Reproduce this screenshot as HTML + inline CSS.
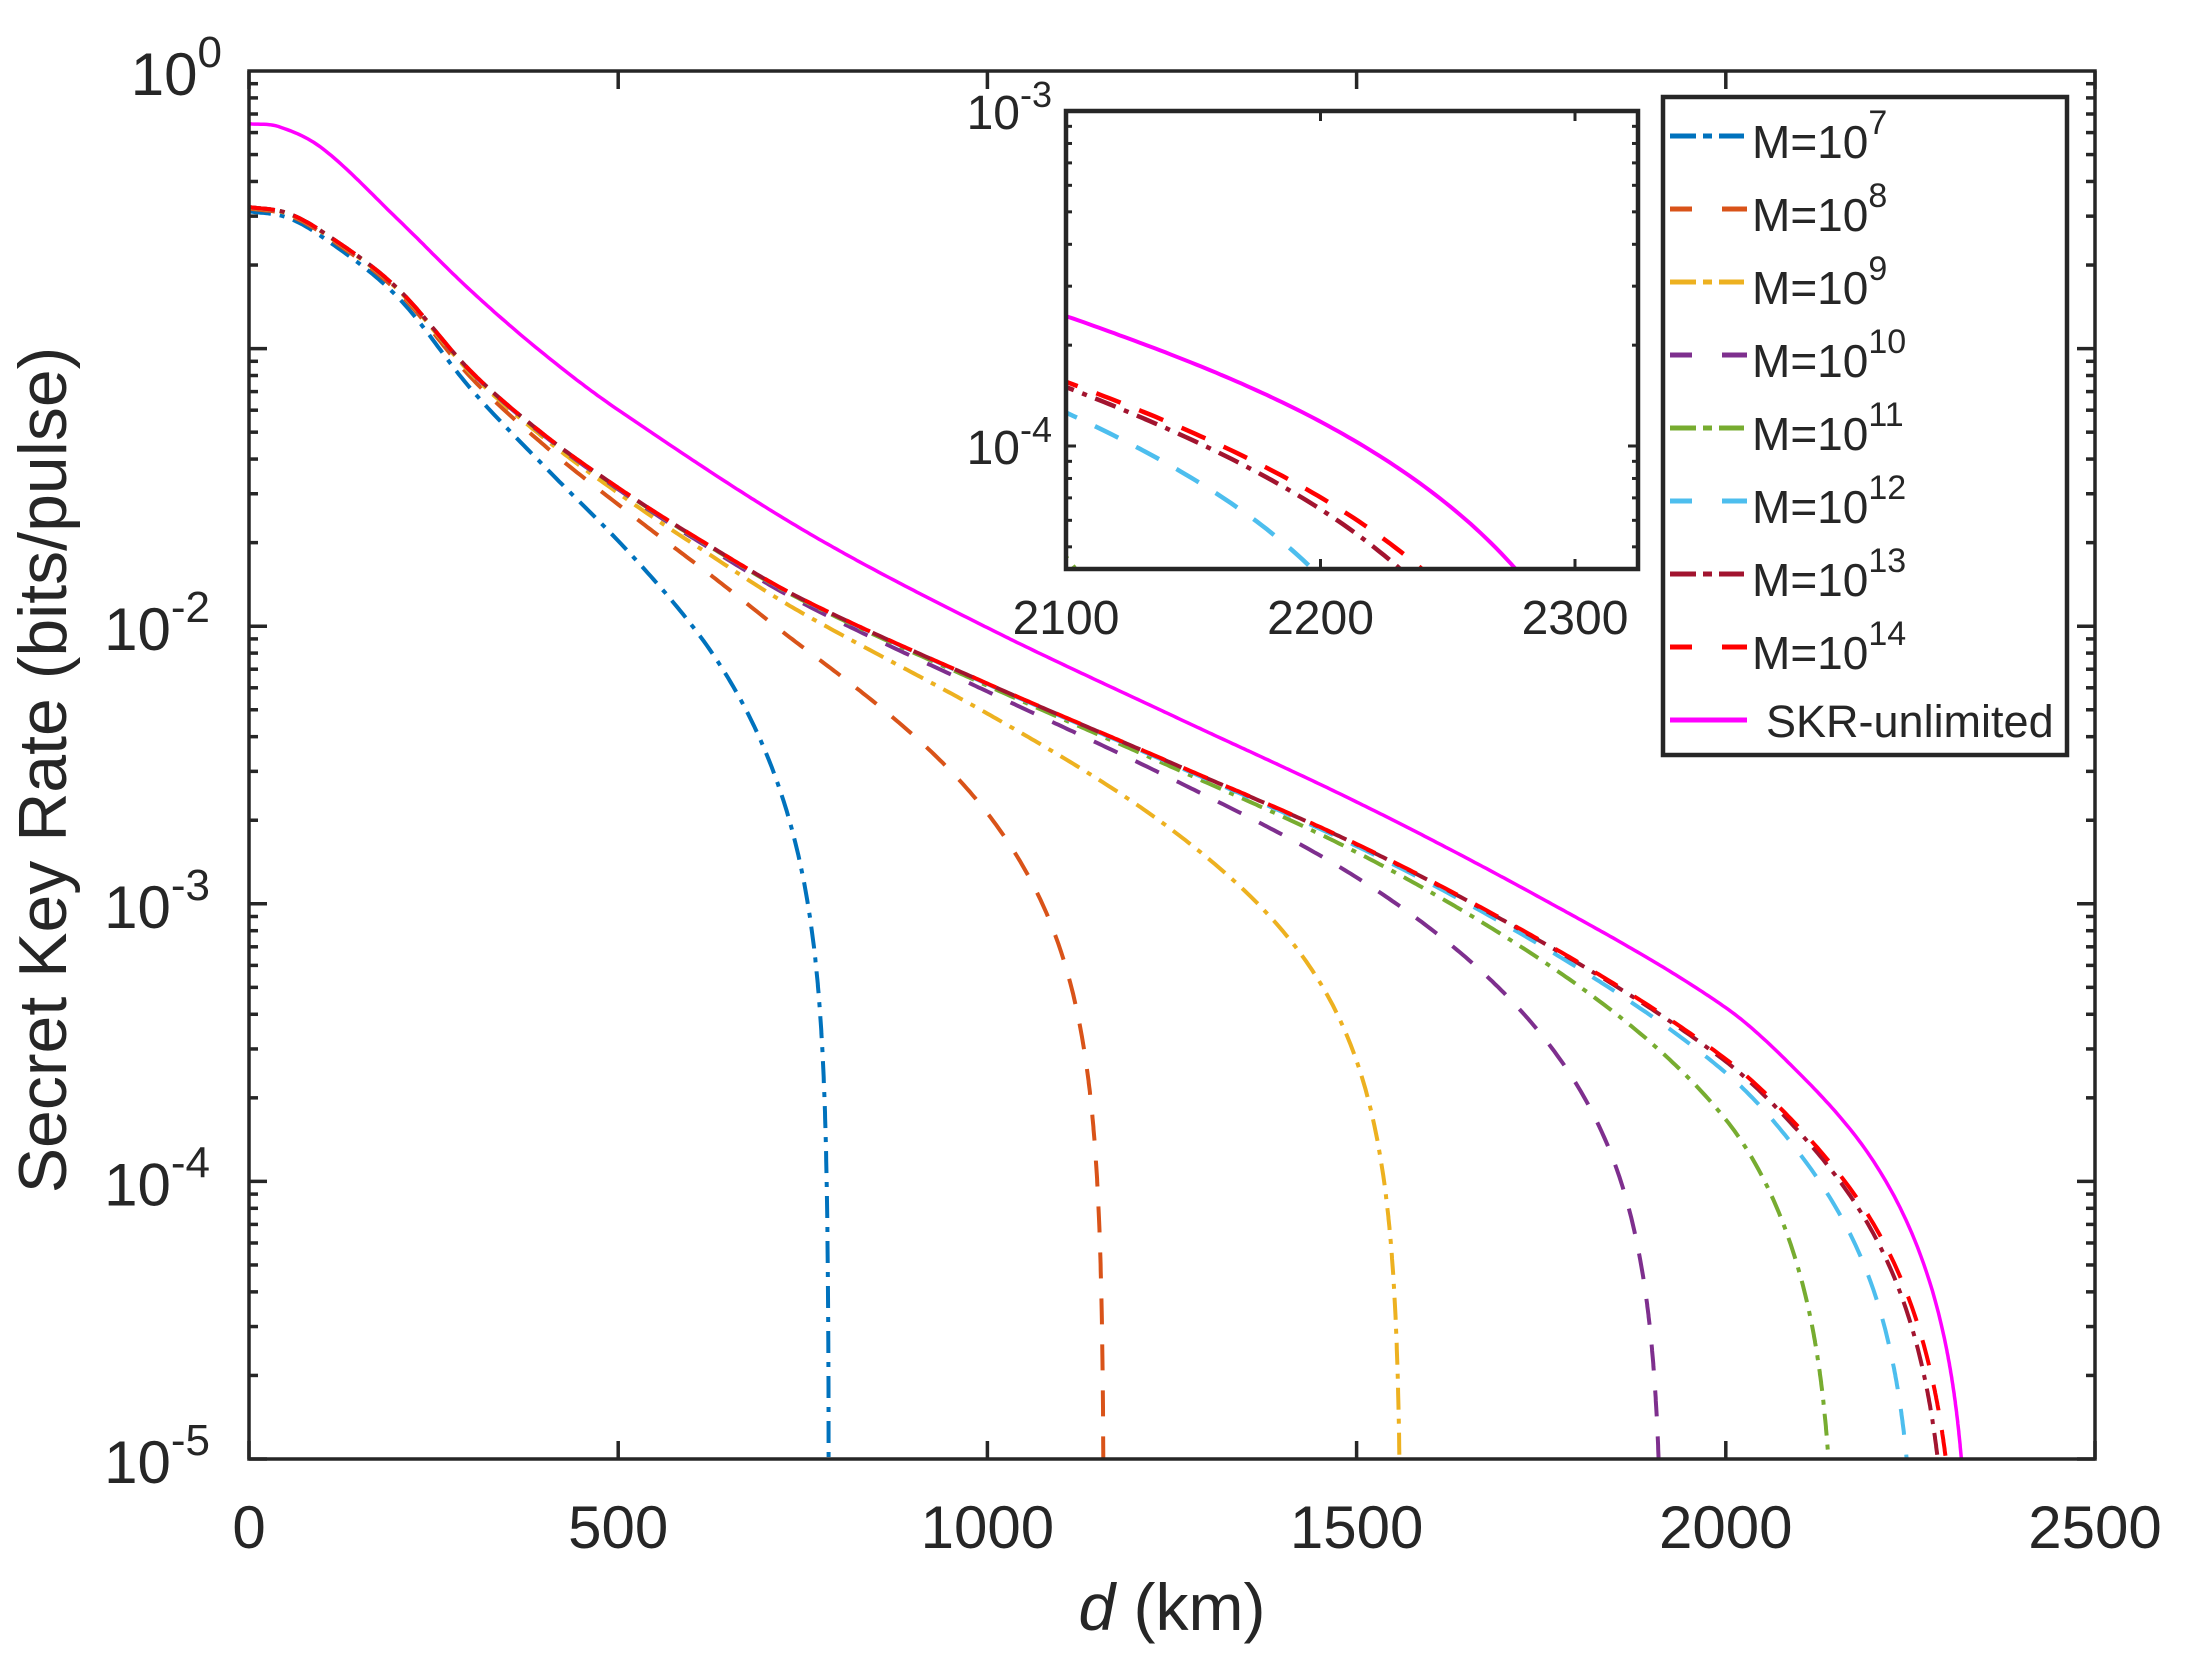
<!DOCTYPE html>
<html><head><meta charset="utf-8"><style>
html,body{margin:0;padding:0;background:#fff}
svg{display:block}
text{font-family:"Liberation Sans",Arial,sans-serif;fill:#262626}
</style></head><body>
<svg id="s" width="2187" height="1672" viewBox="0 0 2187 1672" xmlns="http://www.w3.org/2000/svg">
<defs>
<clipPath id="cm"><rect x="249" y="71" width="1846" height="1388"/></clipPath>
<clipPath id="ci"><rect x="1066" y="111" width="572" height="458"/></clipPath>
</defs>
<rect x="0" y="0" width="2187" height="1672" fill="#fff"/>
<g id="main"></g>
<g id="inset"></g>
<g id="leg"></g>
<text x="66" y="770" font-size="68" text-anchor="middle" transform="rotate(-90 66 770)">Secret Key Rate (bits/pulse)</text>
<text x="1172" y="1630" font-size="66" text-anchor="middle"><tspan font-style="italic">d</tspan> (km)</text>
</svg>
<script>
var NS="http://www.w3.org/2000/svg";
function el(p,t,a,txt){var e=document.createElementNS(NS,t);for(var k in a)e.setAttribute(k,a[k]);if(txt!=null)e.textContent=txt;p.appendChild(e);return e;}
function interp(pts,d){var n=pts.length;var i;
 if(d>=pts[n-1][0]){var a=pts[n-2],b=pts[n-1];return b[1]+(b[1]-a[1])*(d-b[0])/(b[0]-a[0]);}
 if(d<=pts[0][0])return pts[0][1];
 for(i=1;i<n;i++)if(d<=pts[i][0])break;
 var p0=pts[Math.max(i-2,0)],p1=pts[i-1],p2=pts[i],p3=pts[Math.min(i+1,n-1)];
 var h=p2[0]-p1[0],t=(d-p1[0])/h;
 var m1=(p2[1]-p0[1])/(p2[0]-p0[0])*h,m2=(p3[1]-p1[1])/(p3[0]-p1[0])*h;
 var t2=t*t,t3=t2*t;
 return (2*t3-3*t2+1)*p1[1]+(t3-2*t2+t)*m1+(-2*t3+3*t2)*p2[1]+(t3-t2)*m2;}
var E=[[0,-0.49],[50,-0.51],[100,-0.58],[200,-0.78],[300,-1.08],[400,-1.31],[500,-1.50],[600,-1.67],[750,-1.90],[1000,-2.20],[1250,-2.48],[1500,-2.76],[1750,-3.08],[2000,-3.43],[2100,-3.60],[2200,-3.78],[2300,-3.98],[2400,-4.18]];
var S=[[0,-0.19],[40,-0.20],[100,-0.28],[200,-0.53],[300,-0.79],[400,-1.02],[500,-1.22],[750,-1.65],[1000,-2.0],[1250,-2.31],[1500,-2.61],[1750,-2.93],[2000,-3.26],[2100,-3.43],[2200,-3.61],[2300,-3.82],[2400,-4.05]];
var series=[
 {c:"#0072BD",dash:"22 9 5 9",cut:785,b:E,lab:"7"},
 {c:"#D95319",dash:"26 20",cut:1157,b:E,lab:"8"},
 {c:"#EDB120",dash:"22 9 5 9",cut:1558,b:E,lab:"9"},
 {c:"#7E2F8E",dash:"26 20",cut:1909,b:E,lab:"10"},
 {c:"#77AC30",dash:"22 9 5 9",cut:2139,b:E,lab:"11"},
 {c:"#4DBEEE",dash:"26 20",cut:2245,b:E,lab:"12"},
 {c:"#A2142F",dash:"22 9 5 9",cut:2287,b:E,lab:"13"},
 {c:"#FF0000",dash:"26 20",cut:2298,b:E,lab:"14"},
 {c:"#FF00FF",dash:"",cut:2319,b:S,lab:null}];
series.forEach(function(s){s.k=Math.pow(10,interp(s.b,s.cut))-1e-5;});
function val(s,d){return Math.pow(10,interp(s.b,d))-s.k;}
function samples(s){var a=[];for(var d=0;d<s.cut-20;d+=4)a.push(d);for(var d=s.cut-20;d<=s.cut;d+=0.25)a.push(d);return a;}
var main=document.getElementById("main"),inset=document.getElementById("inset"),leg=document.getElementById("leg");
var L=249,R=2095,T=71,B=1459;
function mx(d){return L+(d/2500)*(R-L);}
function my(lv){return T+(-lv)*(B-T)/5;}
var gc=el(main,"g",{"clip-path":"url(#cm)"});
series.forEach(function(s){var p="";samples(s).forEach(function(d,i){var v=val(s,d);if(v<=1e-6)v=1e-6;p+=(i?"L":"M")+mx(d).toFixed(1)+" "+my(Math.log10(v)).toFixed(1);});
 var a={d:p,fill:"none",stroke:s.c,"stroke-width":s.dash?4:3.5};if(s.dash)a["stroke-dasharray"]=s.dash;el(gc,"path",a);});
var ax=el(main,"g",{stroke:"#262626","stroke-width":3.5,fill:"none"});
for(var i=0;i<=5;i++){var x=mx(i*500);el(ax,"line",{x1:x,y1:B,x2:x,y2:B-18});el(ax,"line",{x1:x,y1:T,x2:x,y2:T+18});
 el(main,"text",{x:x,y:1548,"font-size":60,"text-anchor":"middle"},String(i*500));}
for(var dcd=0;dcd<5;dcd++){for(var m=1;m<=9;m++){var lv=-(dcd+1)+Math.log10(m);var y=my(lv);var len=m==1?18:9;
 el(ax,"line",{x1:L,y1:y,x2:L+len,y2:y});el(ax,"line",{x1:R,y1:y,x2:R-len,y2:y});}}
[0,2,3,4,5].forEach(function(e){var y=my(-e);var t=el(main,"text",{x:e==0?222:210,y:y+24,"font-size":60,"text-anchor":"end"});
 el(t,"tspan",{},"10");el(t,"tspan",{dy:-28,"font-size":44},e==0?"0":"-"+e);});
el(main,"rect",{x:L,y:T,width:R-L,height:B-T,fill:"none",stroke:"#262626","stroke-width":3.5});
var iL=1066,iR=1638,iT=111,iB=569;
function ix(d){return iL+(d-2100)*(254.5/100);}
function iy(lv){return iT+(-3-lv)*335;}
el(inset,"rect",{x:iL,y:iT,width:iR-iL,height:iB-iT,fill:"#fff"});
var ic=el(inset,"g",{"clip-path":"url(#ci)"});
series.forEach(function(s){if(s.cut<2100)return;var p="",f=true;for(var d=2095;d<=s.cut;d+=(s.cut-d<15?0.2:2)){var v=val(s,d);if(v<=1e-6)v=1e-6;p+=(f?"M":"L")+ix(d).toFixed(1)+" "+iy(Math.log10(v)).toFixed(1);f=false;}
 var a={d:p,fill:"none",stroke:s.c,"stroke-width":s.dash?4.5:4};if(s.dash)a["stroke-dasharray"]=s.dash;el(ic,"path",a);});
var iax=el(inset,"g",{stroke:"#262626","stroke-width":3,fill:"none"});
[2100,2200,2300].forEach(function(d){var x=ix(d);el(iax,"line",{x1:x,y1:iB,x2:x,y2:iB-10});el(iax,"line",{x1:x,y1:iT,x2:x,y2:iT+10});
 el(inset,"text",{x:x,y:634,"font-size":48,"text-anchor":"middle"},String(d));});
for(var m=1;m<=9;m++){[-4,-5].forEach(function(b){var lv=b+Math.log10(m);var y=iy(lv);if(y<iT-1||y>iB+1)return;var len=m==1?10:6;
 el(iax,"line",{x1:iL,y1:y,x2:iL+len,y2:y});el(iax,"line",{x1:iR,y1:y,x2:iR-len,y2:y});});}
[-3,-4].forEach(function(e){var y=iy(e);var t=el(inset,"text",{x:1052,y:y+18,"font-size":48,"text-anchor":"end"});el(t,"tspan",{},"10");el(t,"tspan",{dy:-22,"font-size":36},String(e));});
el(inset,"rect",{x:iL,y:iT,width:iR-iL,height:iB-iT,fill:"none",stroke:"#262626","stroke-width":4.5});
el(leg,"rect",{x:1663,y:97,width:404,height:658,fill:"#fff",stroke:"#262626","stroke-width":4.5});
series.forEach(function(s,i){var y=136+i*73;var a={x1:1670,y1:y,x2:1747,y2:y,stroke:s.c,"stroke-width":5};
 if(s.dash)a["stroke-dasharray"]=s.dash==="26 20"?"22 30 25":"26 7 9 7 25";el(leg,"line",a);
 if(s.lab){var t=el(leg,"text",{x:1752,y:y+22,"font-size":46});el(t,"tspan",{},"M=10");el(t,"tspan",{dy:-24,"font-size":34},s.lab);}
 else el(leg,"text",{x:1766,y:y+17,"font-size":45},"SKR-unlimited");});
</script>
</body></html>
